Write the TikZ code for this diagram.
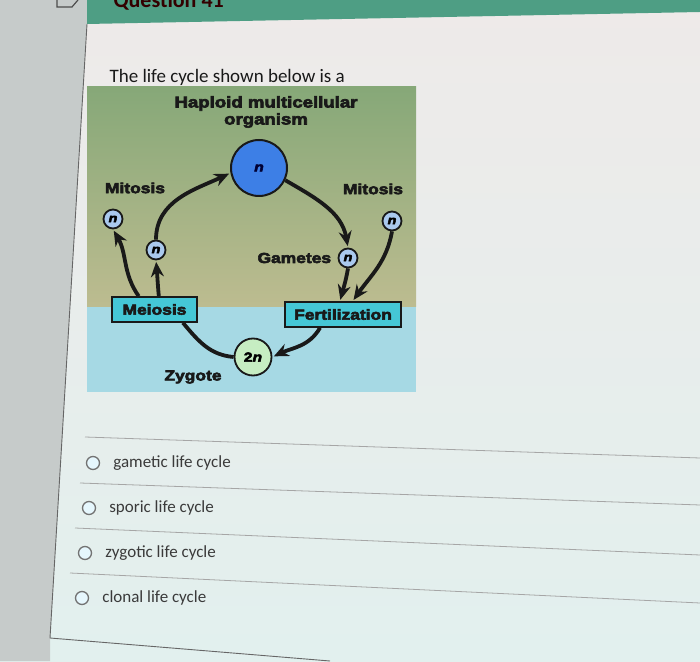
\documentclass[tikz,border=0pt]{standalone}
\usepackage{fontspec}
\setmainfont{Carlito}
\newfontfamily\labelfont[FakeStretch=1.2,FakeBold=4]{Liberation Sans}
\usepackage{tikz}
\usetikzlibrary{arrows.meta,positioning}
\definecolor{pagetop}{HTML}{EEEAE9}
\definecolor{pagebot}{HTML}{E2F0EE}
\definecolor{sidegray}{HTML}{C6CBCA}
\definecolor{headgreen}{HTML}{4E9E84}
\definecolor{panelgreen}{HTML}{86A878}
\definecolor{paneltan}{HTML}{BDBC90}
\definecolor{panelblue}{HTML}{A6D9E4}
\definecolor{hapblue}{HTML}{3D7FE6}
\definecolor{gameteblue}{HTML}{AAC9EE}
\definecolor{zygreen}{HTML}{C6EDC2}
\definecolor{boxcyan}{HTML}{45C7D6}
\definecolor{inkgray}{HTML}{3A3A3A}

\begin{document}
\begin{tikzpicture}[x=1pt,y=1pt,
  lbl/.style={font=\labelfont\bfseries\fontsize{14.5}{16}\selectfont, text=black!90},
  cell/.style={circle,draw=black!90,line width=1.8pt,fill=gameteblue,minimum size=19pt,inner sep=0pt,
    font=\labelfont\bfseries\itshape\fontsize{12}{12}\selectfont},
  stagebox/.style={lbl,draw=black!90,line width=1.5pt,fill=boxcyan,minimum height=25pt,inner sep=0pt},
  cyc/.style={line width=3.8pt,black!90},
  tip/.style={-{Stealth[length=15pt,width=13pt,inset=5pt]},shorten >=1.5pt},
  radio/.style={circle,draw=black!55,line width=1.3pt,fill=white!90!cyan,minimum size=13pt,inner sep=0pt},
  choice/.style={font=\fontsize{17}{20}\selectfont,text=inkgray,inner sep=2pt},
  sepline/.style={black!35,line width=0.8pt}]
\useasboundingbox (0,0) rectangle (700,661);
\clip (0,0) rectangle (700,661);

% screen
\shade[top color=pagetop,bottom color=pagebot] (0,0) rectangle (700,661);
\fill[sidegray] (0,661) -- (87,661) -- (87,637) -- (50,23) -- (50,0) -- (0,0) -- cycle;
\fill[headgreen] (87,661) -- (700,661) -- (700,649) -- (87,637) -- cycle;
\node[anchor=base west,font=\bfseries\fontsize{22}{24}\selectfont,text=black!80!red] (qhead) at (110,653) {Question 41};
\draw[black!70,line width=1.2pt] (57,661) -- (57,654) -- (72,654) -- (78,661);
\draw[black!60,line width=0.9pt] (87,637) -- (50,23) -- (330,0);

\node[anchor=west,font=\fontsize{19}{22}\selectfont,text=black!90] (question) at (106,584) {The life cycle shown below is a};

% panel
\shade[top color=panelgreen,bottom color=paneltan] (87,574) rectangle (416,354);
\fill[panelblue] (87,354) rectangle (416,269);

\node[lbl,align=center,font=\labelfont\bfseries\fontsize{15.5}{17}\selectfont] (haptext) at (266,549) {Haploid multicellular\\organism};
\node[circle,draw=black!90,line width=2pt,fill=hapblue,minimum size=56pt,inner sep=0pt,
  font=\labelfont\bfseries\itshape\fontsize{13}{13}\selectfont,text=black!80!blue] (hap) at (259,493) {n};
\node[lbl] (mitl) at (135,473) {Mitosis};
\node[lbl] (mitr) at (373,472) {Mitosis};
\node[cell] (nfar) at (113,442) {n};
\node[cell] (nl) at (156,411) {n};
\node[cell] (nr) at (392,440) {n};
\node[cell] (gam) at (348,403) {n};
\node[lbl,left=3pt of gam] (gamtext) {Gametes};
\node[stagebox,minimum width=85pt] (meio) at (154.5,351.5) {Meiosis};
\node[stagebox,minimum width=116pt] (fert) at (343,346.5) {Fertilization};
\node[circle,draw=black!90,line width=1.8pt,fill=zygreen,minimum size=37pt,inner sep=0pt,
  font=\labelfont\bfseries\fontsize{13}{13}\selectfont] (zyg) at (253,304) {2\textit{n}};
\node[lbl] (zygtext) at (193,284) {Zygote};

% cycle
\draw[cyc,tip] (hap.-25) to[out=-30,in=100] (gam.north);
\draw[cyc,tip] (gam.south) to[out=-100,in=75] (fert.103);
\draw[cyc,tip] (nr.south) to[out=-100,in=55] (fert.54);
\draw[cyc,tip] (fert.-150) to[out=-120,in=25] (zyg.east);
\draw[cyc] (zyg.west) to[out=175,in=-50] (meio.-25);
\draw[cyc,tip] (meio.72) to[out=95,in=-85] (nl.south);
\draw[cyc,tip] (nl.north) to[out=90,in=205] (hap.190);
\draw[cyc,tip] (meio.140) to[out=125,in=-60] (nfar.south);

% answers
\foreach \a/\b/\c/\d in {85/224/700/203, 80/178/700/156, 75/133/700/106, 70/88/700/58}
  \draw[sepline] (\a,\b) -- (\c,\d);
\foreach \x/\y/\t [count=\i] in {93/198/gametic life cycle, 89/153/sporic life cycle,
    85/108/zygotic life cycle, 82/63/clonal life cycle}
{
  \node[radio] (radio\i) at (\x,\y) {};
  \node[choice,right=11pt of radio\i] (opt\i) {\t};
}
\end{tikzpicture}
\end{document}
